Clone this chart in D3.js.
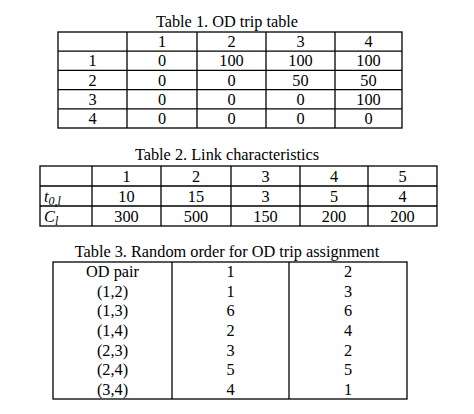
<!DOCTYPE html>
<html><head><meta charset="utf-8">
<script src="https://cdn.jsdelivr.net/npm/d3@7"></script>
<style>body{margin:0;background:#fff}text{font-family:"Liberation Serif","Times New Roman",serif;font-size:16.3px;fill:#000}</style>
</head><body>
<script>
const t1Title="Table 1. OD trip table";
const t1Cols=["","1","2","3","4"];
const t1Rows=["1","2","3","4"];
const t1Vals=[[0,100,100,100],[0,0,50,50],[0,0,0,100],[0,0,0,0]];
const t2Title="Table 2. Link characteristics";
const t2Cols=["","1","2","3","4","5"];
const t2T0=[10,15,3,5,4];
const t2C=[300,500,150,200,200];
const t3Title="Table 3. Random order for OD trip assignment";
const t3Cols=["OD pair","1","2"];
const t3Pairs=["(1,2)","(1,3)","(1,4)","(2,3)","(2,4)","(3,4)"];
const t3Order1=[1,6,2,3,5,4];
const t3Order2=[3,6,4,2,5,1];

const svg=d3.select("body").append("svg").attr("width",474).attr("height",414);

function table(x0,x1,y0,y1,colEdges,nRows,cells,title,titleY,hLines){
  const g=svg.append("g");
  const y=d3.scaleLinear().domain([0,nRows]).range([y0,y1]);
  g.append("text").attr("x",227).attr("y",titleY).attr("text-anchor","middle").text(title);
  g.append("rect").attr("x",x0).attr("y",y0).attr("width",x1-x0).attr("height",y1-y0).attr("fill","none").attr("stroke","#000").attr("stroke-width",1.3);
  colEdges.slice(1,-1).forEach(cx=>g.append("line").attr("x1",cx).attr("x2",cx).attr("y1",y0).attr("y2",y1).attr("stroke","#000").attr("stroke-width",1.3));
  if(hLines) d3.range(1,nRows).forEach(r=>g.append("line").attr("x1",x0).attr("x2",x1).attr("y1",y(r)).attr("y2",y(r)).attr("stroke","#000").attr("stroke-width",1.3));
  cells.forEach((row,r)=>row.forEach((c,i)=>{
    const t=g.append("text").attr("x",(colEdges[i]+colEdges[i+1])/2).attr("y",(y(r)+y(r+1))/2+5.5).attr("text-anchor","middle");
    if(typeof c==="object"){ t.attr("font-style","italic").attr("x",colEdges[i]+4).attr("text-anchor","start").attr("fill","#222");
      t.append("tspan").text(c.b); t.append("tspan").attr("dy",3).style("font-size","12px").text(c.s);}
    else t.text(c);
  }));
}
table(58,402,32,128,[58,127,197,266,335,402],5,[t1Cols,...t1Rows.map((r,i)=>[r,...t1Vals[i]])],t1Title,27,true);
table(40,437,166,226,[40,92,161,231,300,368,437],3,[t2Cols,[{b:"t",s:"0,l"},...t2T0],[{b:" C",s:"l"},...t2C]],t2Title,160,true);
table(53,407,262,399,[53,172,289,407],7,[t3Cols,...t3Pairs.map((p,i)=>[p,t3Order1[i],t3Order2[i]])],t3Title,257,false);
</script>
</body></html>
